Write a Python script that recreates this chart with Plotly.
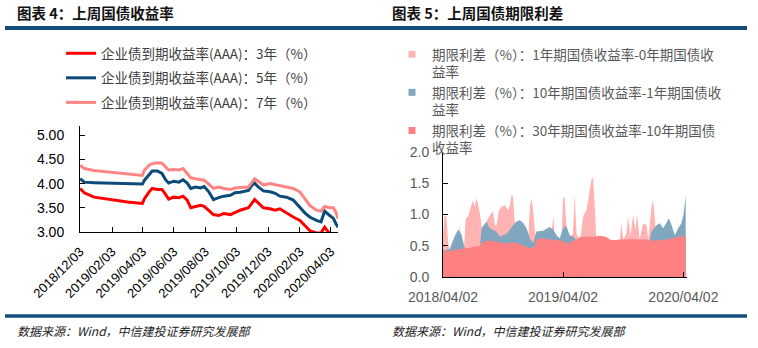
import plotly.graph_objects as go

# ---------------- Left chart data: corporate bond yields (AAA) ----------------
left_dates = ["2018-12-03", "2018-12-11", "2018-12-30", "2019-01-31", "2019-03-05", "2019-04-03",
              "2019-04-07", "2019-04-16", "2019-04-22", "2019-05-02", "2019-05-11", "2019-05-18",
              "2019-05-24", "2019-06-03", "2019-06-13", "2019-06-21", "2019-06-29", "2019-07-06",
              "2019-07-15", "2019-07-25", "2019-08-01", "2019-08-10", "2019-08-19", "2019-08-29",
              "2019-09-08", "2019-09-21", "2019-09-30", "2019-10-10", "2019-10-26", "2019-11-02",
              "2019-11-07", "2019-11-14", "2019-11-24", "2019-12-07", "2019-12-17", "2019-12-26",
              "2020-01-08", "2020-01-21", "2020-02-03", "2020-02-13", "2020-02-22", "2020-03-06",
              "2020-03-15", "2020-03-22", "2020-04-01", "2020-04-08", "2020-04-13", "2020-04-17"]
yield_3y = [3.90, 3.81, 3.72, 3.67, 3.62, 3.59, 3.69, 3.83, 3.90, 3.88, 3.88, 3.78,
            3.68, 3.72, 3.71, 3.74, 3.66, 3.50, 3.53, 3.55, 3.53, 3.45, 3.36, 3.34,
            3.38, 3.36, 3.41, 3.45, 3.50, 3.59, 3.67, 3.60, 3.50, 3.48, 3.45, 3.48,
            3.39, 3.31, 3.24, 3.12, 3.03, 2.98, 2.98, 3.10, 2.95, 2.85, 2.80, 2.78]
yield_5y = [4.10, 4.03, 4.02, 4.01, 4.00, 3.99, 4.07, 4.19, 4.26, 4.26, 4.21, 4.08,
            4.01, 4.05, 4.03, 4.08, 4.01, 3.90, 3.93, 3.91, 3.94, 3.83, 3.67, 3.71,
            3.74, 3.76, 3.81, 3.82, 3.86, 3.97, 4.01, 3.93, 3.85, 3.83, 3.80, 3.74,
            3.72, 3.66, 3.50, 3.39, 3.31, 3.24, 3.21, 3.43, 3.34, 3.28, 3.17, 3.10]
yield_7y = [4.38, 4.31, 4.27, 4.24, 4.21, 4.17, 4.28, 4.38, 4.41, 4.43, 4.42, 4.34,
            4.28, 4.29, 4.28, 4.31, 4.21, 4.12, 4.10, 4.08, 4.07, 3.99, 3.90, 3.93,
            3.90, 3.88, 3.91, 3.92, 3.93, 4.03, 4.10, 4.05, 3.97, 4.00, 3.98, 3.96,
            3.93, 3.90, 3.83, 3.69, 3.55, 3.45, 3.43, 3.53, 3.50, 3.50, 3.41, 3.28]
left_names = ["企业债到期收益率(AAA)：3年（%）",
              "企业债到期收益率(AAA)：5年（%）",
              "企业债到期收益率(AAA)：7年（%）"]
left_ticks = ["2018-12-03", "2019-02-03", "2019-04-03", "2019-06-03", "2019-08-03",
              "2019-10-03", "2019-12-03", "2020-02-03", "2020-04-03"]

# ---------------- Right chart data: term spreads ----------------
spread_30_10_dates = ["2018-04-02", "2018-04-12", "2018-05-02", "2018-05-23", "2018-06-12", "2018-07-02",
                      "2018-07-23", "2018-08-02", "2018-08-22", "2018-09-11", "2018-10-02", "2018-10-22",
                      "2018-11-11", "2018-12-01", "2018-12-22", "2019-01-06", "2019-01-11", "2019-01-31",
                      "2019-02-20", "2019-03-13", "2019-04-02", "2019-04-12", "2019-04-27", "2019-05-13",
                      "2019-05-23", "2019-06-12", "2019-07-02", "2019-07-23", "2019-08-12", "2019-08-22",
                      "2019-09-01", "2019-09-21", "2019-10-12", "2019-11-01", "2019-11-21", "2019-12-12",
                      "2020-01-01", "2020-01-21", "2020-02-10", "2020-03-02", "2020-03-22", "2020-04-01",
                      "2020-04-09"]
spread_30_10 = [0.43, 0.41, 0.43, 0.45, 0.46, 0.48, 0.50, 0.57, 0.58, 0.57, 0.54, 0.55,
                0.55, 0.51, 0.46, 0.49, 0.60, 0.62, 0.60, 0.59, 0.58, 0.53, 0.57, 0.60,
                0.64, 0.65, 0.64, 0.66, 0.64, 0.60, 0.59, 0.60, 0.60, 0.61, 0.60, 0.60,
                0.58, 0.59, 0.60, 0.62, 0.65, 0.65, 0.67]

spread_10_1_dates = ["2018-04-02", "2018-04-22", "2018-05-07", "2018-05-18", "2018-05-28", "2018-06-07",
                     "2018-07-02", "2018-07-23", "2018-07-28", "2018-08-12", "2018-08-22", "2018-09-11",
                     "2018-09-21", "2018-10-12", "2018-11-01", "2018-11-11", "2018-11-21", "2018-12-01",
                     "2018-12-12", "2018-12-22", "2019-01-01", "2019-01-11", "2019-01-31", "2019-02-20",
                     "2019-03-03", "2019-03-13", "2019-03-23", "2019-04-02", "2019-04-12", "2019-04-22",
                     "2019-05-02", "2019-05-13", "2019-06-02", "2019-09-01", "2019-12-12", "2019-12-22",
                     "2019-12-27", "2020-01-11", "2020-01-21", "2020-01-31", "2020-02-10", "2020-02-18",
                     "2020-02-26", "2020-03-07", "2020-03-17", "2020-03-27", "2020-04-03", "2020-04-09"]
spread_10_1 = [0.42, 0.45, 0.65, 0.76, 0.68, 0.46, 0.45, 0.47, 0.78, 0.89, 0.78, 0.73,
               0.65, 0.69, 0.83, 0.89, 0.91, 0.87, 0.78, 0.62, 0.54, 0.73, 0.74, 0.80,
               0.76, 0.67, 0.62, 0.78, 0.82, 0.67, 0.65, 0.59, 0.50, 0.45, 0.50, 0.58,
               0.73, 0.83, 0.86, 0.78, 0.86, 0.94, 0.83, 0.67, 0.78, 0.86, 1.02, 1.31]

spread_1_0_dates = ["2018-04-02", "2018-04-07", "2018-04-12", "2018-04-17", "2018-04-22", "2018-05-18",
                    "2018-05-23", "2018-05-28", "2018-06-04", "2018-06-10", "2018-06-17", "2018-06-27",
                    "2018-07-02", "2018-07-07", "2018-07-12", "2018-07-17", "2018-07-23", "2018-07-28",
                    "2018-08-02", "2018-08-12", "2018-08-22", "2018-09-01", "2018-09-06", "2018-09-11",
                    "2018-09-19", "2018-09-26", "2018-10-07", "2018-10-17", "2018-10-22", "2018-10-27",
                    "2018-11-01", "2018-11-06", "2018-11-11", "2018-12-17", "2018-12-22", "2018-12-27",
                    "2019-01-01", "2019-01-06", "2019-01-11", "2019-02-25", "2019-03-03", "2019-03-08",
                    "2019-03-28", "2019-04-02", "2019-04-07", "2019-04-12", "2019-04-22", "2019-05-02",
                    "2019-05-07", "2019-05-13", "2019-05-23", "2019-06-02", "2019-06-07", "2019-06-12",
                    "2019-06-17", "2019-06-22", "2019-06-27", "2019-07-02", "2019-07-07", "2019-07-12",
                    "2019-09-21", "2019-09-26", "2019-10-02", "2019-10-12", "2019-10-17", "2019-10-24",
                    "2019-11-01", "2019-11-09", "2019-11-13", "2019-11-21", "2019-12-01", "2019-12-12",
                    "2019-12-17", "2019-12-27", "2020-01-01", "2020-01-06", "2020-01-11", "2020-04-09"]
spread_1_0 = [0.70, 0.99, 0.97, 0.59, 0.40, 0.40, 0.86, 0.40, 0.40, 0.94, 0.97, 1.15,
              1.23, 1.12, 1.26, 1.18, 1.02, 0.81, 0.60, 0.89, 0.99, 1.05, 0.85, 0.81,
              1.07, 1.12, 1.15, 1.07, 1.15, 1.31, 1.28, 0.89, 0.60, 0.60, 1.12, 1.26,
              1.07, 0.75, 0.60, 0.65, 0.97, 0.65, 0.55, 1.28, 1.26, 0.81, 0.60, 0.70,
              1.33, 0.70, 0.55, 0.97, 1.02, 1.07, 1.20, 1.39, 1.55, 1.60, 1.18, 0.60,
              0.55, 0.86, 0.60, 0.70, 0.97, 0.65, 0.99, 0.75, 1.02, 0.60, 0.86, 0.83,
              0.60, 1.12, 1.23, 0.95, 0.60, 0.60]
right_names = ["期限利差（%）：1年期国债收益率-0年期国债收<br>益率",
               "期限利差（%）：10年期国债收益率-1年期国债收<br>益率",
               "期限利差（%）：30年期国债收益率-10年期国债<br>收益率"]
right_ticks = ["2018-04-02", "2019-04-02", "2020-04-02"]

# ---------------- Styles ----------------
W, H = 758, 348
CJK = "Noto Sans CJK SC"
NUM = "Liberation Sans, Arial"
DARKBLUE = "#124D7C"
line_colors = ["#FF0000", "#0C4A7A", "#FF8585"]
area_colors = ["#FFB3B3", "#80A6C0", "#FF8080"]

fig = go.Figure()

for i, (name, vals) in enumerate(zip(left_names, [yield_3y, yield_5y, yield_7y])):
    fig.add_trace(go.Scatter(
        x=left_dates, y=vals, name=name, mode="lines",
        line=dict(color=line_colors[i], width=3),
        xaxis="x", yaxis="y", legend="legend", legendgroup="g%d" % i,
    ))

area_data = [(spread_1_0_dates, spread_1_0), (spread_10_1_dates, spread_10_1),
             (spread_30_10_dates, spread_30_10)]
for i, (dts, vals) in enumerate(area_data):
    fig.add_trace(go.Scatter(
        x=dts, y=vals, mode="none", fill="tozeroy", fillcolor=area_colors[i],
        showlegend=False, xaxis="x2", yaxis="y2", hoverinfo="skip",
    ))
for i, name in enumerate(right_names):
    fig.add_trace(go.Scatter(
        x=[None], y=[None], mode="markers", name=name,
        marker=dict(symbol="square", size=7, color=area_colors[i]),
        xaxis="x2", yaxis="y2", legend="legend2",
    ))

def px_x(p):
    return p / W

def px_y(p):
    return 1 - p / H

axis_common = dict(showline=True, linecolor="black", linewidth=1, showgrid=False,
                   zeroline=False, ticks="inside", ticklen=5, tickcolor="black",
                   automargin=False)

fig.update_layout(
    width=W, height=H, margin=dict(l=0, r=0, t=0, b=0, pad=0, autoexpand=False),
    paper_bgcolor="white", plot_bgcolor="white",
    xaxis=dict(domain=[px_x(80), px_x(338)], anchor="y", type="date",
               range=["2018-12-02 18:00", "2020-04-17"], tickmode="array",
               tickvals=left_ticks, tickformat="%Y/%m/%d", tickangle=-45,
               ticklabelstandoff=6,
               tickfont=dict(family=NUM, size=13, color="#000000"), **axis_common),
    yaxis=dict(domain=[px_y(232), px_y(126)], anchor="x", range=[3, 5.19],
               tickmode="array", tickvals=[3, 3.5, 4, 4.5, 5], tickformat=".2f",
               ticklabelstandoff=12,
               tickfont=dict(family=NUM, size=14, color="#000000"), **axis_common),
    xaxis2=dict(domain=[px_x(443), px_x(687)], anchor="y2", type="date",
                range=["2018-04-01 18:00", "2020-04-13"], tickmode="array",
                tickvals=right_ticks, tickformat="%Y/%m/%d", tickangle=0,
                ticklabelstandoff=7,
                tickfont=dict(family=NUM, size=14, color="#595959"), **axis_common),
    yaxis2=dict(domain=[px_y(277), px_y(152)], anchor="x2", range=[0, 2],
                tickmode="array", tickvals=[0, 0.5, 1, 1.5, 2], tickformat=".1f",
                ticklabelstandoff=10,
                tickfont=dict(family=NUM, size=14, color="#595959"), **axis_common),
    legend=dict(x=px_x(61), y=px_y(38), xanchor="left", yanchor="top",
                bgcolor="rgba(0,0,0,0)", traceorder="grouped", tracegroupgap=4,
                font=dict(family=CJK, size=13.5, color="#404040")),
    legend2=dict(x=px_x(392), y=px_y(39), xanchor="left", yanchor="top",
                 bgcolor="rgba(0,0,0,0)", valign="top", tracegroupgap=0,
                 font=dict(family=CJK, size=13.5, color="#595959")),
    font=dict(family=CJK),
)

# Titles, rules and source notes
for x0, x1, title in [(5, 380, "图表 4：上周国债收益率"), (380, 747, "图表 5：上周国债期限利差")]:
    fig.add_shape(type="line", xref="paper", yref="paper", x0=px_x(x0), x1=px_x(x1),
                  y0=px_y(28), y1=px_y(28), line=dict(color=DARKBLUE, width=4))
    fig.add_shape(type="line", xref="paper", yref="paper", x0=px_x(x0), x1=px_x(x1),
                  y0=px_y(316), y1=px_y(316), line=dict(color=DARKBLUE, width=3.5))
    fig.add_annotation(xref="paper", yref="paper", x=px_x(x0 + 10), y=px_y(13),
                       xanchor="left", yanchor="middle", showarrow=False,
                       text="<b>%s</b>" % title,
                       font=dict(family=CJK, size=14.5, color="#111111"))
    fig.add_annotation(xref="paper", yref="paper", x=px_x(x0 + 10), y=px_y(330),
                       xanchor="left", yanchor="middle", showarrow=False,
                       text="<i>数据来源：Wind，中信建投证券研究发展部</i>",
                       font=dict(family=CJK, size=12, color="#222222"))

fig.write_html("out.html", config={"displayModeBar": False})
